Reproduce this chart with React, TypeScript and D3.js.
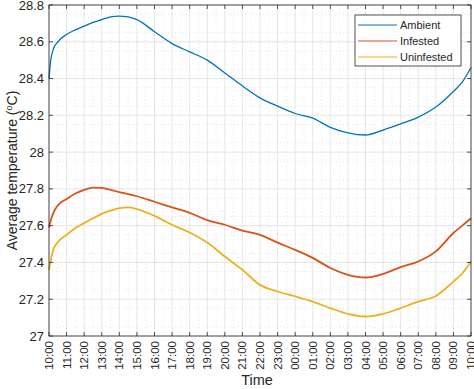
import React from 'react';
import * as d3 from 'd3';

// hours after 10:00
const hours = [0, 0.1, 0.25, 0.5, 1, 1.5, 2, 2.5, 3, 3.5, 4, 4.5, 5, 6, 7, 8, 9, 10, 11, 12, 13, 14, 15, 16, 17, 18, 19, 20, 21, 22, 23, 23.5, 24];

const ambient = [28.40, 28.50, 28.56, 28.60, 28.64, 28.665, 28.685, 28.705, 28.72, 28.735, 28.74, 28.735, 28.72, 28.655, 28.59, 28.545, 28.50, 28.43, 28.36, 28.295, 28.25, 28.21, 28.185, 28.135, 28.105, 28.093, 28.12, 28.153, 28.19, 28.245, 28.33, 28.38, 28.46];
const infested = [27.59, 27.63, 27.67, 27.71, 27.745, 27.775, 27.795, 27.807, 27.805, 27.795, 27.782, 27.772, 27.76, 27.73, 27.70, 27.67, 27.63, 27.605, 27.573, 27.55, 27.508, 27.468, 27.425, 27.37, 27.333, 27.318, 27.338, 27.375, 27.405, 27.46, 27.56, 27.60, 27.64];
const uninfested = [27.36, 27.41, 27.47, 27.51, 27.55, 27.587, 27.614, 27.64, 27.664, 27.682, 27.695, 27.70, 27.69, 27.653, 27.605, 27.563, 27.508, 27.432, 27.36, 27.278, 27.242, 27.215, 27.187, 27.152, 27.12, 27.106, 27.12, 27.152, 27.187, 27.218, 27.296, 27.34, 27.405];

const timeLabels = ['10:00', '11:00', '12:00', '13:00', '14:00', '15:00', '16:00', '17:00', '18:00', '19:00', '20:00', '21:00', '22:00', '23:00', '00:00', '01:00', '02:00', '03:00', '04:00', '05:00', '06:00', '07:00', '08:00', '09:00', '10:00'];
const yTicks = [27, 27.2, 27.4, 27.6, 27.8, 28, 28.2, 28.4, 28.6, 28.8];

const series = [
  { name: 'Ambient', values: ambient, color: '#0072BD', width: 1.3 },
  { name: 'Infested', values: infested, color: '#D95319', width: 1.8 },
  { name: 'Uninfested', values: uninfested, color: '#EDB120', width: 1.8 },
];

const W = 474;
const H = 389;
const m = { left: 49, right: 471, top: 5, bottom: 336 };
const font = 'Liberation Sans, Arial, sans-serif';

export default function App() {
  const x = d3.scaleLinear().domain([0, 24]).range([m.left, m.right]);
  const y = d3.scaleLinear().domain([27, 28.8]).range([m.bottom, m.top]);
  const line = d3.line<number>().x((_, i) => x(hours[i])).y(d => y(d)).curve(d3.curveMonotoneX);

  const minorX = d3.range(0.5, 24, 1);
  const minorY = d3.range(27.05, 28.8, 0.1);

  return (
    <svg width={W} height={H} style={{ position: 'absolute', left: 0, top: 0, background: '#fff' }} fontFamily={font}>
      <rect x={m.left} y={m.top} width={m.right - m.left} height={m.bottom - m.top} fill="#fff" />
      {minorX.map(h => (
        <line key={'mx' + h} x1={x(h)} x2={x(h)} y1={m.top} y2={m.bottom} stroke="#d6d6d6" strokeWidth={0.6} strokeDasharray="1,2.5" />
      ))}
      {minorY.map(v => (
        <line key={'my' + v} x1={m.left} x2={m.right} y1={y(v)} y2={y(v)} stroke="#d6d6d6" strokeWidth={0.6} strokeDasharray="1,2.5" />
      ))}
      {timeLabels.map((_, i) => (
        <line key={'gx' + i} x1={x(i)} x2={x(i)} y1={m.top} y2={m.bottom} stroke="#e0e0e0" strokeWidth={0.8} />
      ))}
      {yTicks.map(v => (
        <line key={'gy' + v} x1={m.left} x2={m.right} y1={y(v)} y2={y(v)} stroke="#e0e0e0" strokeWidth={0.8} />
      ))}
      {series.map(s => (
        <path key={s.name} d={line(s.values) || ''} fill="none" stroke={s.color} strokeWidth={s.width} />
      ))}
      <rect x={m.left} y={m.top} width={m.right - m.left} height={m.bottom - m.top} fill="none" stroke="#262626" strokeWidth={0.8} />
      {timeLabels.map((t, i) => (
        <g key={'tx' + i}>
          <line x1={x(i)} x2={x(i)} y1={m.bottom} y2={m.bottom - 4} stroke="#262626" strokeWidth={0.8} />
          <line x1={x(i)} x2={x(i)} y1={m.top} y2={m.top + 4} stroke="#262626" strokeWidth={0.8} />
          <text transform={`translate(${x(i) + 4},${m.bottom + 5}) rotate(-90)`} textAnchor="end" fontSize={11.5} fill="#262626">{t}</text>
        </g>
      ))}
      {yTicks.map(v => (
        <g key={'ty' + v}>
          <line x1={m.left} x2={m.left + 4} y1={y(v)} y2={y(v)} stroke="#262626" strokeWidth={0.8} />
          <line x1={m.right} x2={m.right - 4} y1={y(v)} y2={y(v)} stroke="#262626" strokeWidth={0.8} />
          <text x={m.left - 5} y={y(v) + 4.5} textAnchor="end" fontSize={13} fill="#262626">{String(v)}</text>
        </g>
      ))}
      <text x={257} y={385} textAnchor="middle" fontSize={14.5} fill="#262626">Time</text>
      <text transform={`translate(17,${(m.top + m.bottom) / 2}) rotate(-90)`} textAnchor="middle" fontSize={14} fill="#262626">
        Average temperature (<tspan dy={-5} fontSize={9}>o</tspan><tspan dy={5}>C)</tspan>
      </text>
      <g>
        <rect x={355} y={15} width={106} height={51} fill="#fff" stroke="#262626" strokeWidth={0.8} />
        {series.map((s, i) => (
          <g key={'lg' + s.name} transform={`translate(0,${25 + i * 16})`}>
            <line x1={358} x2={397} y1={0} y2={0} stroke={s.color} strokeWidth={1} />
            <text x={400} y={4} fontSize={11} fill="#262626">{s.name}</text>
          </g>
        ))}
      </g>
    </svg>
  );
}
